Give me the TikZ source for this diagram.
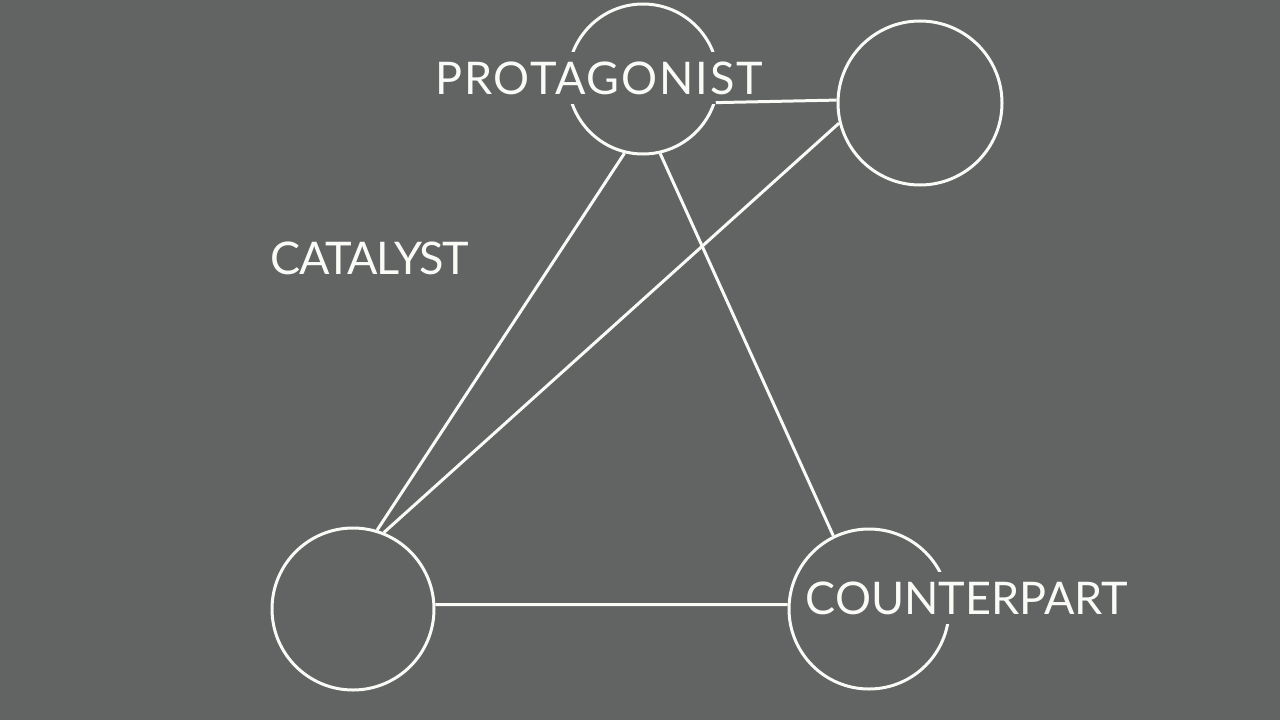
\documentclass[tikz,border=0pt]{standalone}
\usepackage{fontspec}
\setmainfont{Lato}
\definecolor{bg}{RGB}{98,99,99}
\definecolor{ink}{RGB}{250,250,247}
\tikzset{
  role/.style={circle, draw=ink, line width=3pt, inner sep=0pt, minimum size=#1},
  link/.style={draw=ink, line width=3pt},
  label/.style={text=ink, fill=bg, inner xsep=3pt, inner ysep=10pt,
    font=\fontsize{45}{50}\selectfont}
}
\begin{document}
\begin{tikzpicture}[x=1pt,y=-1pt]
  \fill[bg] (0,0) rectangle (1280,720);
  \useasboundingbox (0,0) rectangle (1280,720);
  \node[role=150pt] (P)  at (643,79) {};
  \node[role=164pt] (TR) at (920,103) {};
  \node[role=162pt] (BL) at (353,609) {};
  \node[role=160pt] (BR) at (869,609) {};
  \node[label] (tp) at (599,78) {\addfontfeature{LetterSpace=4}PROTAGONIST};
  \node[label] (tc) at (967,598) {COUNTERPART};
  \node[label] (tk) at (370,258) {\addfontfeature{LetterSpace=-3}CATALYST};
  \draw[link] (P.256) -- (BL.73);
  \draw[link] (P.283) -- (BR.116);
  \draw[link] (P.342) -- (TR.178);
  \draw[link] (TR.194) -- (BL.68);
  \draw[link] (BL.3) -- (BR.177);
\end{tikzpicture}
\end{document}
